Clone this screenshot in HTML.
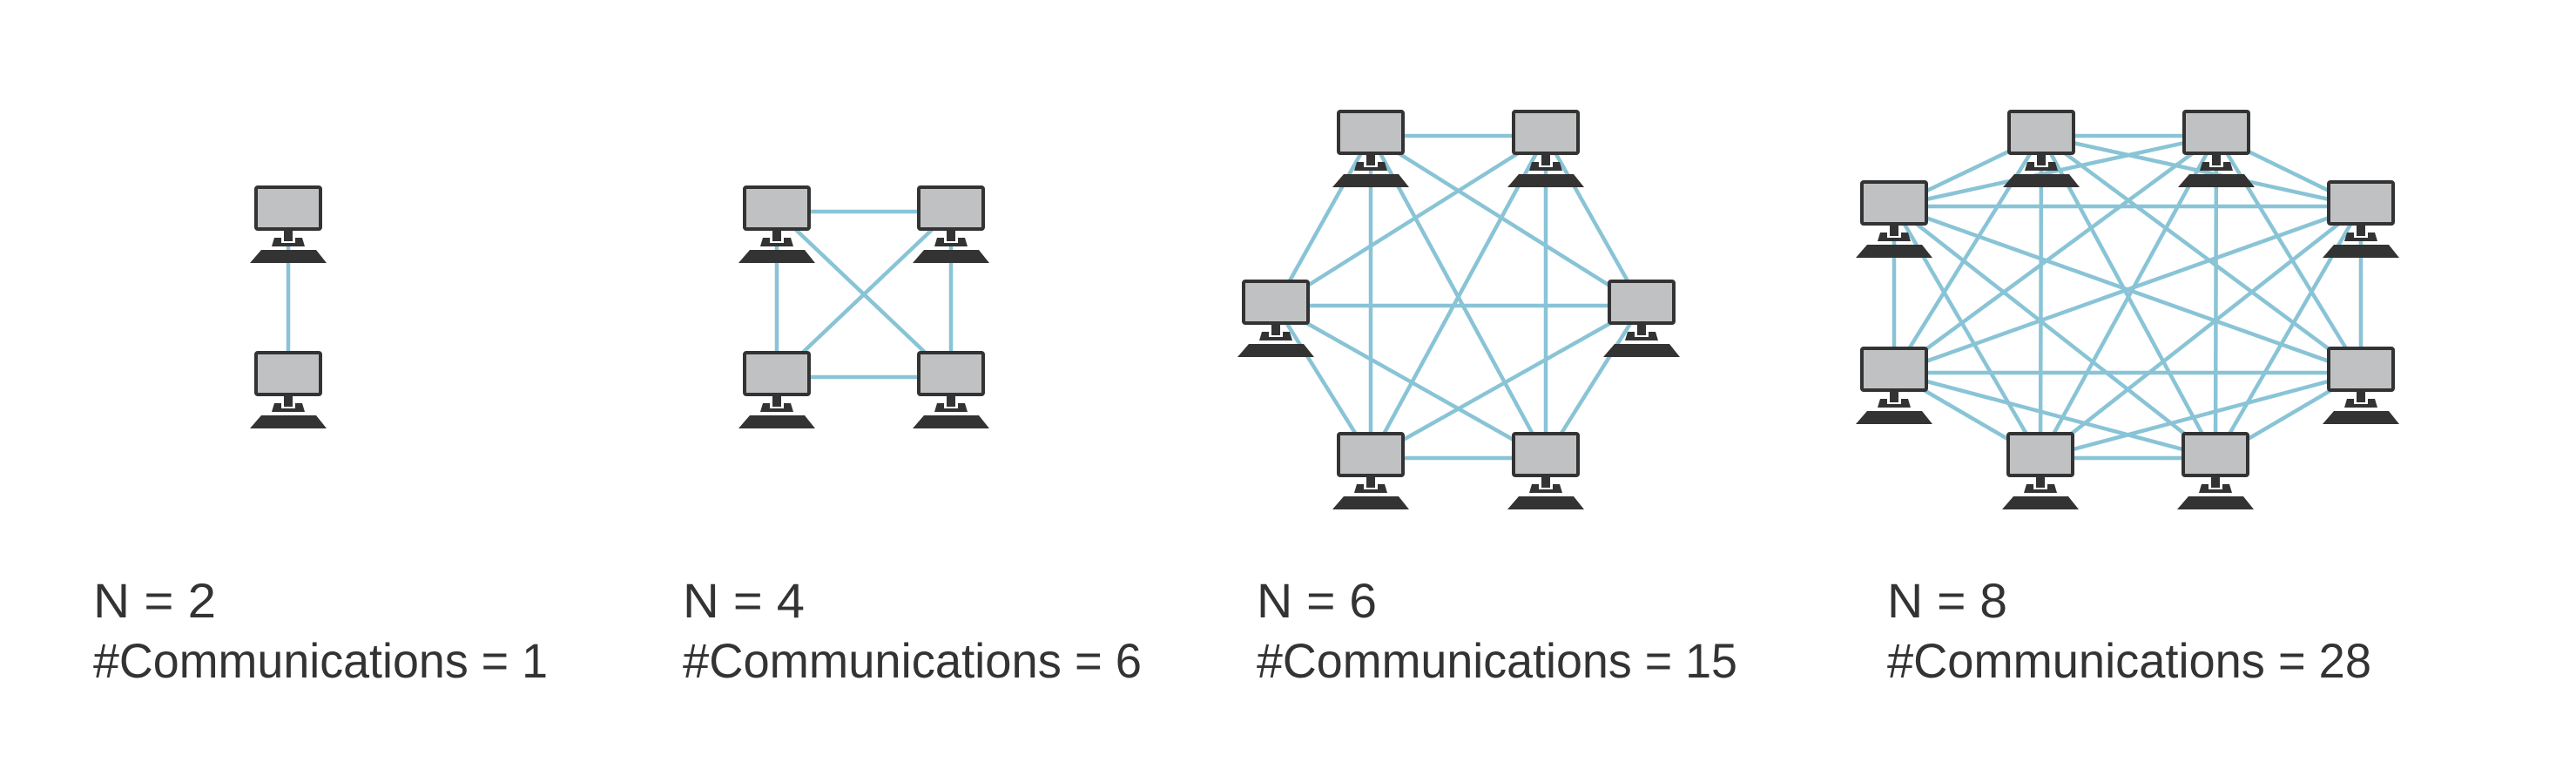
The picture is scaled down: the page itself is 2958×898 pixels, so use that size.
<!DOCTYPE html>
<html><head><meta charset="utf-8"><style>
html,body{margin:0;padding:0;background:#fff;}
svg{display:block;}
text{font-family:"Liberation Sans",sans-serif;font-size:56px;fill:#333;}
</style></head><body>
<svg id="s" width="2958" height="898" viewBox="0 0 2958 898" xmlns="http://www.w3.org/2000/svg">
<defs>
<g id="pc">
<rect x="2" y="2" width="74" height="48" rx="2" fill="#c0c1c3" stroke="#333" stroke-width="4"/>
<polygon points="23,60 55,60 58,70 20,70" fill="#333"/>
<rect x="31" y="56" width="16" height="10" fill="#fff"/>
<rect x="34" y="52" width="10" height="12" fill="#333"/>
<polygon points="8,74 71,74 83,89 -5,89" fill="#333"/>
</g>
</defs>
<g id="lines" stroke="#89c4d6" stroke-width="4.5" fill="none"></g>
<g id="icons"></g>
<text x="107" y="709" textLength="141" lengthAdjust="spacingAndGlyphs">N = 2</text>
<text x="107" y="778" textLength="522" lengthAdjust="spacingAndGlyphs">#Communications = 1</text>
<text x="784" y="709" textLength="140" lengthAdjust="spacingAndGlyphs">N = 4</text>
<text x="784" y="778" textLength="527" lengthAdjust="spacingAndGlyphs">#Communications = 6</text>
<text x="1443" y="709" textLength="138" lengthAdjust="spacingAndGlyphs">N = 6</text>
<text x="1443" y="778" textLength="552" lengthAdjust="spacingAndGlyphs">#Communications = 15</text>
<text x="2167" y="709" textLength="138" lengthAdjust="spacingAndGlyphs">N = 8</text>
<text x="2167" y="778" textLength="556" lengthAdjust="spacingAndGlyphs">#Communications = 28</text>
</svg>
<script>
var groups=[
[[292,213],[292,403]],
[[853,213],[1053,213],[853,403],[1053,403]],
[[1535,126],[1736,126],[1426,321],[1846,321],[1535,496],[1736,496]],
[[2305,126],[2506,126],[2136,207],[2672,207],[2136,398],[2672,398],[2304,496],[2505,496]]
];
var NS="http://www.w3.org/2000/svg";
var L=document.getElementById("lines"),I=document.getElementById("icons");
groups.forEach(function(g){
 for(var i=0;i<g.length;i++){for(var j=i+1;j<g.length;j++){
  var l=document.createElementNS(NS,"line");
  l.setAttribute("x1",g[i][0]+39);l.setAttribute("y1",g[i][1]+30);
  l.setAttribute("x2",g[j][0]+39);l.setAttribute("y2",g[j][1]+30);
  L.appendChild(l);}}
 g.forEach(function(p){
  var u=document.createElementNS(NS,"use");
  u.setAttribute("href","#pc");
  u.setAttribute("transform","translate("+p[0]+","+p[1]+")");
  I.appendChild(u);});
});
</script>
</body></html>
